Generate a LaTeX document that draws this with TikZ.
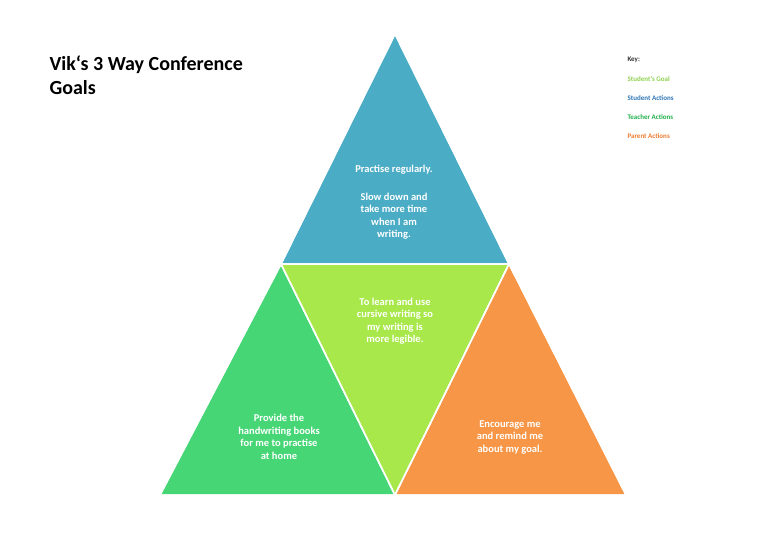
\documentclass[tikz,border=0pt]{standalone}
\usepackage{fontspec}
\setmainfont{Carlito}
\definecolor{cTop}{HTML}{4BACC6}
\definecolor{cMid}{HTML}{A8E84A}
\definecolor{cLeft}{HTML}{47D676}
\definecolor{cRight}{HTML}{F79646}
\definecolor{kGoal}{HTML}{8FD14F}
\definecolor{kStu}{HTML}{2E75B6}
\definecolor{kTea}{HTML}{22B14C}
\definecolor{kPar}{HTML}{ED7D31}
\begin{document}
\begin{tikzpicture}[x=1pt,y=-1pt,
  tri/.style={draw=white,line width=1.5pt,line join=miter},
  txt/.style={text=white,align=center,font=\fontsize{10.5}{12.5}\selectfont\bfseries},
  keyt/.style={anchor=west,font=\fontsize{7}{8}\selectfont\bfseries}]
\useasboundingbox[fill=white] (0,0) rectangle (768,543);
\coordinate (A) at (395,34);
\coordinate (B) at (281,264);
\coordinate (C) at (509,264);
\coordinate (D) at (160,495);
\coordinate (E) at (395,495);
\coordinate (F) at (626,495);
\fill[cTop,tri] (A) -- (B) -- (C) -- cycle;
\fill[cLeft,tri] (B) -- (D) -- (E) -- cycle;
\fill[cMid,tri] (B) -- (C) -- (E) -- cycle;
\fill[cRight,tri] (C) -- (E) -- (F) -- cycle;
\draw[tri] (A) -- (B) -- (C) -- cycle;
\draw[tri] (B) -- (D) -- (E) -- cycle;
\draw[tri] (C) -- (E) -- (F) -- cycle;
\node[txt] (t1) at (394,170) {Practise regularly.};
\node[txt] (t2) at (394,216) {Slow down and\\take more time\\when I am\\writing.};
\node[txt] (t3) at (395,321) {To learn and use\\cursive writing so\\my writing is\\more legible.};
\node[txt] (t4) at (279,437) {Provide the\\handwriting books\\for me to practise\\at home};
\node[txt] (t5) at (510,437) {Encourage me\\and remind me\\about my goal.};
\node[anchor=north west,align=left,font=\fontsize{20}{24}\selectfont\bfseries] (title) at (46,52) {Vik‘s 3 Way Conference\\Goals};
\node[keyt,text=black!80] (k0) at (624,60) {Key:};
\node[keyt,text=kGoal] (k1) at (624,79) {Student’s Goal};
\node[keyt,text=kStu] (k2) at (624,98) {Student Actions};
\node[keyt,text=kTea] (k3) at (624,117) {Teacher Actions};
\node[keyt,text=kPar] (k4) at (624,136) {Parent Actions};
\end{tikzpicture}
\end{document}
